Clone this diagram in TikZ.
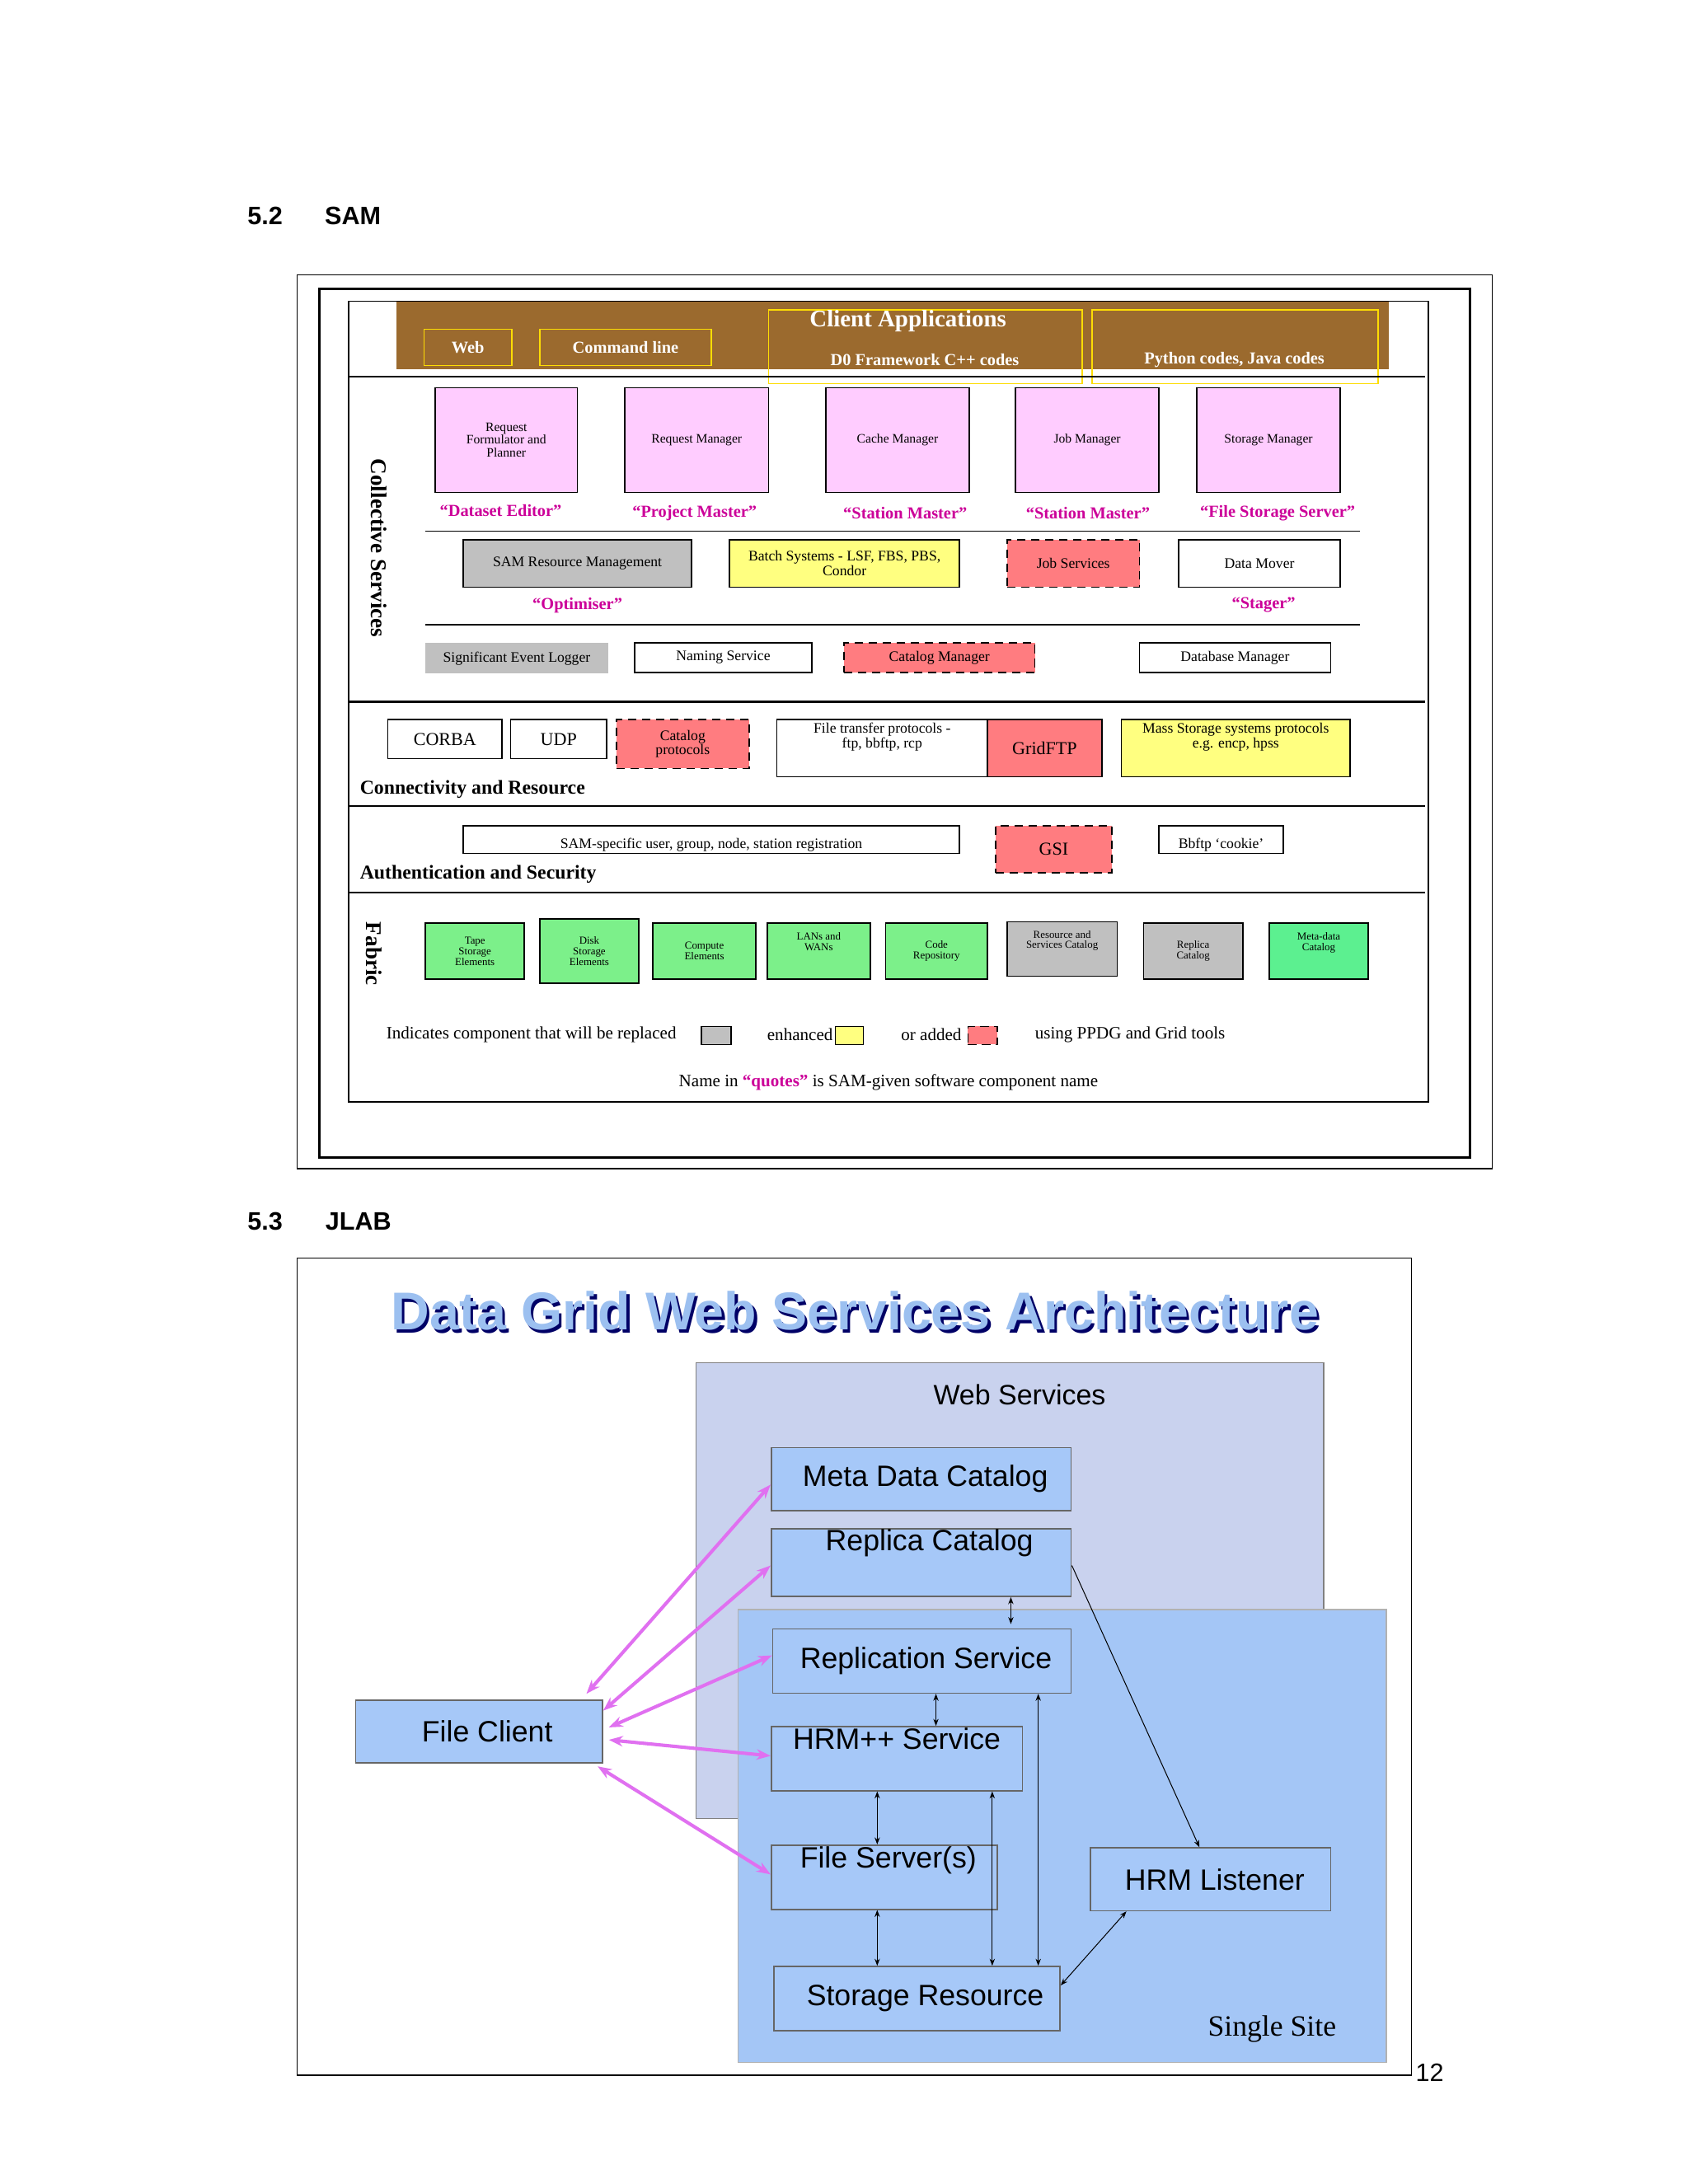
\documentclass[tikz,border=0pt]{standalone}
\usepackage{fontspec}
\setmainfont{Liberation Serif}
\newfontfamily\arialf{Liberation Sans}
\usetikzlibrary{arrows.meta}

\definecolor{brownC}{HTML}{9B6A2E}
\definecolor{pinkC}{HTML}{FFCCFF}
\definecolor{grayC}{HTML}{C0C0C0}
\definecolor{yelC}{HTML}{FFFF80}
\definecolor{redC}{HTML}{FF7C80}
\definecolor{grnC}{HTML}{7CF08A}
\definecolor{grnD}{HTML}{5CF090}
\definecolor{magC}{HTML}{CC0099}
\definecolor{boxC}{HTML}{A6C8F8}
\definecolor{siteC}{HTML}{A4C6F6}
\definecolor{webC}{HTML}{C9D2EE}
\definecolor{violC}{HTML}{E070F0}
\definecolor{titleC}{HTML}{9CC0F0}

% box from corner (x1,y1) to corner (x2,y2)
\newcommand\bx[7]{\node[#6,minimum width={(#4-#2)*0.0175cm},minimum height={(#5-#3)*0.0175cm}] (#1) at ({(#2+#4)/2},{(#3+#5)/2}) {#7};}
\newcommand\fs[1]{\fontsize{#1}{#1}\selectfont}

\tikzset{
  sam/.style={draw,line width=0.5pt,inner sep=0pt,align=center,font=\fs{4.6}},
  wbox/.style={sam,fill=white},
  pbox/.style={sam,fill=pinkC},
  gbox/.style={sam,fill=grayC},
  ybox/.style={sam,fill=yelC},
  rbox/.style={sam,fill=redC,densely dashed},
  fbox/.style={sam,fill=grnC,font=\fs{3.8}},
  cbox/.style={draw=yellow!80!orange,line width=0.5pt,inner sep=0pt,text=white,font=\bfseries\fs{6}},
  qlab/.style={text=magC,font=\bfseries\fs{6}},
  sect/.style={font=\bfseries\fs{7}},
  jbox/.style={draw=black!60,line width=0.5pt,fill=boxC,inner sep=0pt,font=\arialf\fs{10.5},align=left},
  thinarr/.style={{Stealth[length=2.5pt]}-{Stealth[length=2.5pt]},line width=0.3pt},
  violarr/.style={{Stealth[length=5pt]}-{Stealth[length=5pt]},violC,line width=1.2pt},
}

\begin{document}
\begin{tikzpicture}[x={(0.0175cm,0)},y={(0,-0.0175cm)}]
\useasboundingbox[fill=white] (0,0) rectangle (1210,1566);

% headings
\node[font=\arialf\bfseries\fs{9}] (h52) at (190,155) {5.2};
\node[font=\arialf\bfseries\fs{9}] (hsam) at (253,155) {SAM};
\node[font=\arialf\bfseries\fs{9}] (h53) at (190,876) {5.3};
\node[font=\arialf\bfseries\fs{9}] (hjlab) at (257,876) {JLAB};

% SAM frames
\draw[line width=0.4pt] (213,197) rectangle (1070,838);
\draw[line width=0.8pt] (229,207) rectangle (1054,830);
\draw[line width=0.5pt] (250,216) rectangle (1024,790);

% client applications band
\fill[brownC] (284,216) rectangle (996,265);
\bx{web}{304}{236}{367}{262}{cbox}{Web}
\bx{cmd}{387}{236}{510}{262}{cbox}{Command line}
\bx{d0}{551}{222}{776}{275}{cbox}{}
\bx{py}{783}{222}{988}{275}{cbox}{}
\node[text=white,font=\bfseries\fs{8.5}] (capp) at (651,230) {Client Applications};
\node[text=white,font=\bfseries\fs{6}] (d0t) at (663,258) {D0 Framework C++ codes};
\node[text=white,font=\bfseries\fs{6}] (pyt) at (885,258) {Python codes, Java codes};

% separators
\draw[line width=0.8pt] (250,270) -- (1022,270);
\draw[line width=0.4pt] (305,381) -- (975,381);
\draw[line width=0.4pt] (305,448) -- (975,448);
\draw[line width=0.8pt] (250,503) -- (1022,503);
\draw[line width=0.8pt] (250,578) -- (1022,578);
\draw[line width=0.8pt] (250,640) -- (1022,640);

% collective services
\node[rotate=-90,font=\bfseries\fs{8}] (coll) at (272,393) {Collective Services};
\bx{rfp}{312}{278}{414}{353}{pbox}{Request\\Formulator and\\Planner}
\bx{rqm}{448}{278}{551}{353}{pbox}{Request Manager}
\bx{cam}{592}{278}{695}{353}{pbox}{Cache Manager}
\bx{jbm}{728}{278}{831}{353}{pbox}{Job Manager}
\bx{stm}{858}{278}{961}{353}{pbox}{Storage Manager}
\node[qlab] (q1) at (359,366) {“Dataset Editor”};
\node[qlab] (q2) at (498,368) {“Project Master”};
\node[qlab] (q3) at (649,368) {“Station Master”};
\node[qlab] (q4) at (780,368) {“Station Master”};
\node[qlab] (q5) at (916,368) {“File Storage Server”};

\bx{srm}{332}{387}{496}{421}{gbox,font=\fs{5.2}}{SAM Resource Management}
\bx{bat}{523}{387}{688}{421}{ybox,font=\fs{5.2}}{Batch Systems - LSF,\ FBS, PBS,\\Condor}
\bx{jbs}{722}{387}{817}{421}{rbox,font=\fs{5.2}}{Job Services}
\bx{dmv}{845}{387}{961}{421}{wbox,font=\fs{5.2}}{Data Mover}
\node[qlab] (q6) at (414,434) {“Optimiser”};
\node[qlab] (q7) at (906,434) {“Stager”};

\bx{sel}{305}{461}{436}{483}{gbox,draw=none,font=\fs{5.2}}{Significant Event Logger}
\bx{nms}{455}{461}{582}{482}{wbox,font=\fs{5.2}}{Naming Service}
\bx{ctm}{605}{461}{742}{482}{rbox,font=\fs{5.2}}{Catalog Manager}
\bx{dbm}{817}{461}{954}{482}{wbox,font=\fs{5.2}}{Database Manager}

% connectivity and resource
\bx{corba}{278}{516}{360}{544}{wbox,font=\fs{6.5}}{CORBA}
\bx{udp}{366}{516}{435}{544}{wbox,font=\fs{6.5}}{UDP}
\bx{ctp}{442}{516}{537}{551}{rbox,font=\fs{5.2}}{Catalog\\protocols}
\bx{ftp}{557}{516}{708}{557}{wbox,font=\fs{5.2}}{File transfer protocols -\\ftp, bbftp, rcp\\[4pt]}
\bx{gftp}{708}{516}{790}{557}{sam,fill=redC,font=\fs{6.5}}{GridFTP}
\bx{mss}{804}{516}{968}{557}{ybox,font=\fs{5.2}}{Mass Storage systems protocols\\e.g. encp, hpss\\[4pt]}
\node[sect,anchor=west] (conn) at (251,566) {Connectivity and Resource};

% authentication and security
\bx{reg}{332}{592}{688}{612}{wbox,font=\fs{5.2}}{\\[2pt]SAM-specific user, group, node, station registration}
\bx{gsi}{714}{592}{797}{626}{rbox,font=\fs{6.5}}{GSI}
\bx{bck}{831}{592}{920}{612}{wbox,font=\fs{5.2}}{\\[2pt]Bbftp ‘cookie’}
\node[sect,anchor=west] (auth) at (251,627) {Authentication and Security};

% fabric
\node[rotate=-90,font=\bfseries\fs{8}] (fab) at (268,684) {Fabric};
\bx{tape}{305}{662}{376}{702}{fbox}{Tape\\Storage\\Elements}
\bx{disk}{387}{659}{458}{705}{fbox}{Disk\\Storage\\Elements}
\bx{comp}{468}{662}{542}{702}{fbox}{Compute\\Elements}
\bx{lan}{550}{662}{624}{702}{fbox}{LANs and\\WANs\\[3pt]}
\bx{code}{635}{662}{708}{702}{fbox}{Code\\Repository}
\bx{rsc}{722}{661}{801}{700}{gbox,font=\fs{3.8}}{Resource and\\Services Catalog\\[3pt]}
\bx{repc}{820}{662}{891}{702}{gbox,font=\fs{3.8}}{Replica\\Catalog}
\bx{mdc}{910}{662}{981}{702}{fbox,fill=grnD}{Meta-data\\Catalog\\[3pt]}

% legend
\node[anchor=west,font=\fs{6.2}] (lg1) at (270,742) {Indicates component that will be replaced};
\bx{lgg}{503}{736}{524}{749}{gbox}{}
\node[anchor=west,font=\fs{6.2}] (lg2) at (543,742) {enhanced};
\bx{lgy}{599}{736}{619}{749}{ybox}{}
\node[anchor=west,font=\fs{6.2}] (lg3) at (639,742) {or added};
\bx{lgr}{694}{736}{715}{749}{rbox}{}
\node[anchor=west,font=\fs{6.2}] (lg4) at (735,742) {using PPDG and Grid tools};
\node[font=\fs{6.2}] (lg5) at (637,776) {Name in \textcolor{magC}{\textbf{“quotes”}} is SAM-given software component name};

% JLAB frame
\draw[line width=0.5pt] (213,902) rectangle (1012,1488);
\node[text=blue!40!black,font=\arialf\bfseries\fs{19}] (ttls) at (615,942) {Data Grid Web Services Architecture};
\node[text=titleC,font=\arialf\bfseries\fs{19}] (ttl) at (613,940) {Data Grid Web Services Architecture};
\fill[webC] (499,977) rectangle (949,1304);
\draw[black!50,line width=0.4pt] (499,977) rectangle (949,1304);
\node[font=\arialf\fs{10}] (wsl) at (731,1000) {Web Services};
\fill[siteC] (529,1154) rectangle (994,1479);
\draw[black!30,line width=0.4pt] (529,1154) rectangle (994,1479);
\node[font=\fs{10.5}] (ssl) at (912,1455) {Single Site};

\bx{meta}{553}{1038}{768}{1083}{jbox}{\ Meta Data Catalog\hfill}
\bx{repl}{553}{1098}{768}{1143}{jbox}{\ \ Replica Catalog\hfill\ \\[6pt]}
\bx{rsv}{554}{1168}{768}{1214}{jbox}{\ Replication Service\hfill}
\bx{hrm}{553}{1238}{733}{1284}{jbox}{HRM++ Service\hfill\ \\[4pt]}
\bx{fsv}{553}{1323}{715}{1369}{jbox}{\ File Server(s)\hfill\ \\[4pt]}
\bx{sto}{555}{1410}{760}{1456}{jbox}{\ \ Storage Resource\hfill}
\bx{hls}{782}{1325}{954}{1370}{jbox}{\ HRM Listener\hfill}
\bx{fcl}{255}{1219}{432}{1264}{jbox}{\ \ File Client\hfill}

% file client connectors
\draw[violarr] ([xshift=-6pt,yshift=2pt]fcl.north east) -- ([yshift=-2pt]meta.west);
\draw[violarr] ([yshift=-4pt]fcl.north east) -- ([yshift=-1pt]repl.west);
\draw[violarr] ([xshift=2pt,yshift=-10pt]fcl.north east) -- ([yshift=2pt]rsv.west);
\draw[violarr] ([xshift=2pt,yshift=-3pt]fcl.east) -- ([yshift=1pt]hrm.west);
\draw[violarr] ([xshift=-2pt,yshift=-1pt]fcl.south east) -- ([yshift=1pt]fsv.west);

% site connectors
\draw[thinarr] ([xshift=32pt]repl.south) -- ([xshift=32pt,yshift=1.5pt]repl.south |- rsv.north);
\draw[thinarr] ([xshift=5pt]rsv.south) -- ([xshift=5pt]rsv.south |- hrm.north);
\draw[thinarr] ([xshift=-7pt]hrm.south) -- ([xshift=-7pt]hrm.south |- fsv.north);
\draw[thinarr] ([xshift=-7pt]hrm.south |- fsv.south) -- ([xshift=-7pt]hrm.south |- sto.north);
\draw[thinarr] ([xshift=-11pt]hrm.south east) -- ([xshift=-11pt]hrm.south east |- sto.north);
\draw[thinarr] ([xshift=-12pt]rsv.south east) -- ([xshift=-12pt]rsv.south east |- sto.north);
\draw[-{Stealth[length=2.5pt]},line width=0.3pt] ([yshift=-1pt]repl.east) -- ([xshift=-4pt]hls.north);
\draw[thinarr] ([xshift=13pt]hls.south west) -- ([yshift=-7pt]sto.north east);

\node[font=\arialf\fs{9}] (pg) at (1025,1486) {12};
\end{tikzpicture}
\end{document}
